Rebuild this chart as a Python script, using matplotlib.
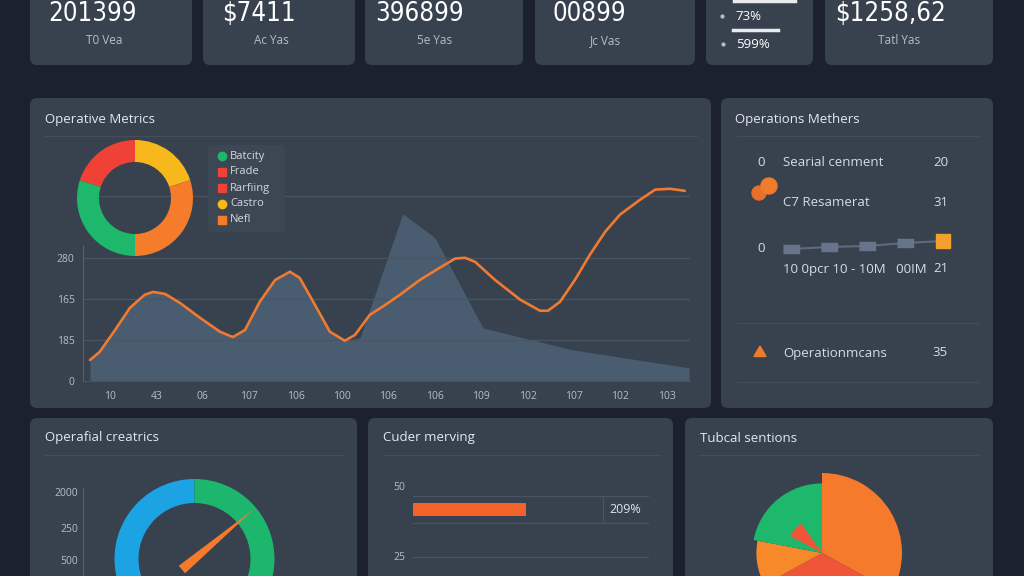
import numpy as np
import matplotlib.pyplot as plt
from matplotlib.patches import FancyBboxPatch, Wedge, Circle, Polygon, RegularPolygon

plt.rcParams['font.family'] = ['Open Sans', 'DejaVu Sans']

W, H = 1024, 576
BG = '#1b222d'
PANEL = '#38424f'
GRID = '#4a5562'
TXT = '#e4e8ec'
SUB = '#b4bec8'

# ---- data ----
card_values = ["201399", "$7411", "396899", "00899", "$1258,62"]
card_labels = ["T0 Vea", "Ac Yas", "5e Yas", "Jc Vas", "Tatl Yas"]
small_card = ["73%", "599%"]

donut_values = [20, 30, 30, 20]          # clockwise from top
donut_colors = ['#f6b81a', '#f57c2b', '#1db86b', '#ef4136']
legend_labels = ["Batcity", "Frade", "Rarfiing", "Castro", "Nefl"]
legend_colors = ['#1db86b', '#ef4136', '#ef4136', '#f6b81a', '#f57c2b']
legend_marks = ['o', 's', 's', 'o', 's']

line_x = [-0.43, -0.22, 0.11, 0.43, 0.75, 0.93, 1.19, 1.51, 1.94, 2.37, 2.65, 2.91,
          3.23, 3.56, 3.88, 4.09, 4.42, 4.74, 5.06, 5.28, 5.60, 5.93, 6.25, 6.68,
          7.11, 7.44, 7.65, 7.87, 8.30, 8.84, 9.27, 9.44, 9.70, 10.02, 10.34, 10.67,
          10.99, 11.42, 11.75, 12.07, 12.39]
line_y = [51, 71, 124, 178, 210, 217, 212, 190, 154, 120, 107, 124,
          193, 246, 266, 251, 185, 120, 98, 112, 161, 185, 210, 246,
          276, 298, 300, 290, 246, 198, 171, 171, 193, 246, 307, 363,
          405, 441, 466, 468, 463]
spike_x = [5.39, 6.31, 7.00, 8.04, 9.96, 12.48]
spike_y = [105, 407, 349, 129, 76, 32]
x_labels = ["10", "43", "06", "107", "106", "100", "106", "106", "109", "102", "107", "102", "103"]
y_labels = ["0", "185", "165", "280"]

ops_names = ["Searial cenment", "C7 Resamerat", "10 0pcr 10 - 10M   00IM", "Operationmcans"]
ops_values = ["20", "31", "21", "35"]
mini_trend = [0, 2, 3, 6, 8]

gauge_values = [50, 50]
gauge_labels = ["2000", "250", "500"]
needle_angle = 40

bar_value = 48
bar_text = "209%"
bar_ticks = ["50", "25"]

pie_sizes = [33, 34, 11, 22]
pie_radii = [1.0, 0.92, 0.82, 0.87]
pie_colors = ['#f57a2c', '#f05537', '#f7892b', '#1db86b']

fig = plt.figure(figsize=(10.24, 5.76), dpi=100, facecolor=BG)


def px_axes(x0, y0, x1, y1):
    a = fig.add_axes([x0 / W, 1 - y1 / H, (x1 - x0) / W, (y1 - y0) / H])
    a.patch.set_visible(False)
    return a


bg = px_axes(0, 0, W, H)
bg.set_xlim(0, W)
bg.set_ylim(H, 0)
bg.axis('off')


def panel(x0, y0, x1, y1):
    bg.add_patch(FancyBboxPatch((x0, y0), x1 - x0, y1 - y0,
                                boxstyle="round,pad=0,rounding_size=7", fc=PANEL, ec='none'))


for c in [(30, -20, 192, 65), (203, -20, 355, 65), (365, -20, 523, 65), (535, -20, 695, 65),
          (706, -20, 813, 65), (825, -20, 993, 65), (30, 98, 711, 408), (721, 98, 993, 408),
          (30, 418, 357, 600), (368, 418, 673, 600), (685, 418, 993, 600)]:
    panel(*c)

# top cards
num_x = [48, 222, 375, 552, 835]
lab_x = [104, 271, 435, 605, 899]
for v, l, nx, lx in zip(card_values, card_labels, num_x, lab_x):
    bg.text(nx, 21, v, color='white', fontsize=18.5, family='DejaVu Sans', fontstretch='condensed',
            va='baseline', ha='left')
    bg.text(lx, 41, l, color=SUB, fontsize=8.5, ha='center', va='center')

bg.plot([734, 795], [1, 1], color='#e8ecef', lw=2.5)
bg.plot([733, 778], [30, 30], color='#e8ecef', lw=2.5)
bg.plot([722, 723], [16, 44], 'o', color=SUB, ms=2)
bg.text(735, 17, small_card[0], color='white', fontsize=9.5, va='center')
bg.text(736, 45, small_card[1], color='white', fontsize=9.5, va='center')

# titles + separators
titles = [(45, 119, "Operative Metrics", 44, 697, 136), (735, 119, "Operations Methers", 737, 978, 136),
          (45, 438, "Operafial creatrics", 44, 343, 455), (383, 438, "Cuder merving", 383, 660, 455),
          (700, 438, "Tubcal sentions", 699, 978, 455)]
for tx, ty, t, s0, s1, sy in titles:
    bg.text(tx, ty, t, color=TXT, fontsize=9.5, va='center', ha='left')
    bg.plot([s0, s1], [sy, sy], color='#444e5a', lw=0.8)

# ---- line / area chart ----
ax = px_axes(83, 151, 690, 381)
ax.set_xlim(-0.58, 12.5)
ax.set_ylim(0, 560)
ax.axhline(450, color=GRID, lw=0.8, zorder=0)
cut = line_x.index(5.06) + 1
ax.fill_between(line_x[:cut] + spike_x, line_y[:cut] + spike_y, color='#4c6074', alpha=0.9, lw=0, zorder=1)
ax.plot(line_x, line_y, color='#f07a30', lw=1.9, zorder=3, solid_capstyle='round')
ax.set_xticks(range(len(x_labels)))
ax.set_xticklabels(x_labels)
ax.set_yticks([0, 100, 200, 300])
ax.set_yticklabels(y_labels)
ax.tick_params(length=0, colors=SUB, labelsize=7.5)
ax.tick_params(axis='x', pad=7)
ax.tick_params(axis='y', pad=6)
ax.grid(axis='y', color=GRID, lw=0.8, zorder=0)
for s in ['top', 'right']:
    ax.spines[s].set_visible(False)
ax.spines['left'].set_color('#56606c')
ax.spines['left'].set_bounds(0, 330)
ax.spines['bottom'].set_color(GRID)

# donut
dn = px_axes(75, 138, 195, 258)
dn.pie(donut_values, colors=donut_colors, startangle=90, counterclock=False,
       radius=58 / 60, wedgeprops=dict(width=22 / 60, lw=0))
dn.set_xlim(-1, 1)
dn.set_ylim(-1, 1)
dn.set_aspect('equal')

# legend on an overlay
fg = px_axes(0, 0, W, H)
fg.set_xlim(0, W)
fg.set_ylim(H, 0)
fg.axis('off')
fg.add_patch(FancyBboxPatch((208, 145), 77, 87, boxstyle="round,pad=0,rounding_size=4",
                            fc='#3d4754', ec='none'))
for i, (lb, lc, lm) in enumerate(zip(legend_labels, legend_colors, legend_marks)):
    fg.plot(222, 156 + 16 * i, lm, color=lc, ms=6 if lm == 'o' else 5.5)
    fg.text(230, 156 + 16 * i, lb, color='#d2d8de', fontsize=8, va='center')

# ---- right panel ----
row_y = [163, 202, 269, 353]
for ry, n, v in zip(row_y, ops_names, ops_values):
    bg.text(783, ry, n, color='#d6dce2', fontsize=9.5, va='center')
    bg.text(948, ry, v, color='#d6dce2', fontsize=9.5, va='center', ha='right')
bg.text(761, 163, "0", color='#d6dce2', fontsize=9.5, va='center', ha='center')
bg.text(761, 249, "0", color='#d6dce2', fontsize=9.5, va='center', ha='center')
bg.add_patch(Circle((759, 193), 7, color='#e8702a'))
bg.add_patch(Circle((769, 186), 8, color='#f27b2c'))
bg.add_patch(RegularPolygon((760, 353), 3, radius=7, orientation=np.pi, color='#f07a2a'))
bg.plot([737, 978], [323, 323], color='#444e5a', lw=0.8)
bg.plot([737, 978], [382, 382], color='#444e5a', lw=0.8)

mt = px_axes(780, 225, 955, 262)
mt.set_xlim(-0.29, 4.32)
mt.set_ylim(-13, 24)
mt.axis('off')
rect = [(-1, -0.55), (1, -0.55), (1, 0.55), (-1, 0.55)]
mt.plot(range(len(mini_trend)), mini_trend, color='#5d6b7b', lw=1.5, zorder=1)
mt.plot(range(len(mini_trend) - 1), mini_trend[:-1], ls='none', marker=rect, ms=11,
        color='#66758a', zorder=2)
mt.plot([len(mini_trend) - 1], mini_trend[-1:], ls='none', marker='s', ms=10,
        color='#f5a02c', zorder=3)

# ---- gauge ----
gx = px_axes(112.5, 477, 276.5, 641)
gx.pie(gauge_values, colors=['#1ba3e4', '#1cb76c'], startangle=90, counterclock=True,
       radius=80 / 82, wedgeprops=dict(width=24 / 82, lw=0))
gx.set_xlim(-1, 1)
gx.set_ylim(-1, 1)
gx.set_aspect('equal')
a = np.radians(needle_angle)
d = np.array([np.cos(a), np.sin(a)])
nrm = np.array([-np.sin(a), np.cos(a)])
tip = d * 0.95
tail = -d * 0.2
gx.add_patch(Polygon([tip, tail + nrm * 0.06, tail - nrm * 0.06], color='#f57a2c', lw=0))
for gy, gl in zip([494, 530, 561], gauge_labels):
    bg.text(78, gy, gl, color=SUB, fontsize=7.5, va='center', ha='right')
bg.plot([83, 83], [488, 576], color='#56606c', lw=0.8)

# ---- bar ----
bx = px_axes(413, 496, 648, 523)
bx.barh(0, bar_value, height=0.48, color='#f4622c')
bx.set_xlim(0, 100)
bx.set_ylim(-0.5, 0.5)
bx.axvline(81, color=GRID, lw=0.8)
bx.text(90.5, 0, bar_text, color='#e0e4e8', fontsize=9, va='center', ha='center')
bx.set_xticks([])
bx.set_yticks([])
for s in ['left', 'right']:
    bx.spines[s].set_visible(False)
for s in ['top', 'bottom']:
    bx.spines[s].set_color(GRID)
bg.text(399, 488, bar_ticks[0], color=SUB, fontsize=7.5, va='center', ha='center')
bg.text(399, 557, bar_ticks[1], color=SUB, fontsize=7.5, va='center', ha='center')
bg.plot([413, 648], [557, 557], color=GRID, lw=0.8)

# ---- pie ----
px = px_axes(742, 473, 902, 633)
px.set_xlim(-1, 1)
px.set_ylim(-1, 1)
px.axis('off')
start = 90
for sz, r, col in zip(pie_sizes, pie_radii, pie_colors):
    end = start - sz * 3.6
    px.add_patch(Wedge((0, 0), r, end, start, color=col, lw=0))
    start = end
px.add_patch(Wedge((0, 0), 0.45, 125, 152, color='#f05537', lw=0))

fig.savefig('out.png', dpi=100, facecolor=BG)
